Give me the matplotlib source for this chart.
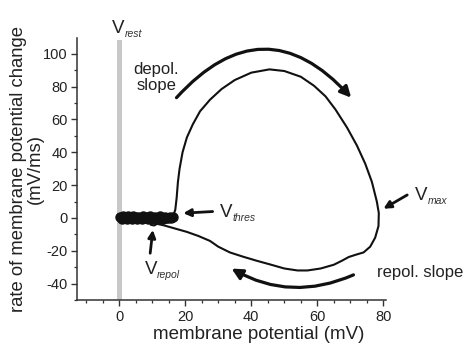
import matplotlib
matplotlib.use("Agg")
import matplotlib.pyplot as plt
from matplotlib.patches import FancyArrowPatch
from matplotlib.ticker import MultipleLocator

plt.rcParams['font.family'] = ['Liberation Sans', 'DejaVu Sans']
plt.rcParams['axes.unicode_minus'] = False

# ---- data ----
# phase-plot loop (membrane potential mV, rate mV/ms), clockwise from threshold
loop_x = [16.4, 17.0, 17.4, 17.8, 18.3, 19.2, 20.5, 22.3, 24.5, 27.5, 31.0, 35.0,
          40.0, 45.5, 50.0, 55.0, 59.0, 62.5, 65.5, 69.0, 72.0, 74.5, 76.5, 78.0,
          78.6, 78.5, 77.5, 76.0, 74.0, 71.5, 69.5, 67.5, 65.0, 61.0, 57.0, 54.0,
          50.0, 46.0, 41.5, 37.5, 33.5, 30.0, 27.5, 24.0, 20.5, 17.0, 13.5, 11.5,
          10.6, 9.6, 9.3, 9.8]
loop_y = [1.5, 5.0, 12.0, 22.0, 30.0, 40.0, 49.0, 57.0, 65.0, 72.0, 78.5, 84.0,
          88.5, 90.5, 89.5, 86.0, 80.5, 74.0, 66.0, 55.0, 44.0, 33.0, 22.0, 10.0,
          3.0, -5.0, -12.0, -17.5, -21.0, -22.5, -23.8, -26.0, -28.5, -30.8, -32.0, -32.0,
          -30.8, -28.5, -26.0, -23.6, -21.0, -17.5, -14.0, -11.0, -8.5, -6.5, -4.5, -3.6,
          -4.6, -4.2, -3.0, -2.0]

# noisy resting trace (dense cluster of points near 0 mV/ms)
blob_x = [0.3, 0.8, 1.3, 1.8, 2.3, 2.8, 3.3, 3.8, 4.3, 4.8, 5.3, 5.8, 6.3, 6.8,
          7.3, 7.8, 8.3, 8.8, 9.3, 9.8, 10.3, 10.8, 11.3, 11.8, 12.3, 12.8, 13.3,
          13.8, 14.3, 14.8, 15.3, 15.8, 16.3]
blob_y = [0.5, -0.6, 1.0, 0.2, -0.8, 0.9, 0.0, -0.7, 1.1, 0.3, -0.9, 0.8, 0.1, -0.5,
          1.0, -0.3, 0.6, -0.8, 0.9, 0.0, -0.6, 0.8, 0.2, -0.4, 0.9, 0.0, -0.5,
          0.7, 0.1, -0.3, 0.6, 0.0, 0.4]

x_ticks = [0, 20, 40, 60, 80]
y_ticks = [-40, -20, 0, 20, 40, 60, 80, 100]

fig = plt.figure(figsize=(4.74, 3.45), dpi=100)
ax = fig.add_axes([0.1635, 0.1304, 0.651, 0.7594])

ink = '#111111'

# V_rest band
ax.fill_betweenx([-50, 108.5], -0.75, 0.75, color='#c8c8c8', lw=0, zorder=1)

ax.plot(blob_x, blob_y, 'o', ms=6.5, color=ink, zorder=3)
ax.plot(blob_x, blob_y, '-', lw=5.5, color=ink, zorder=3, solid_capstyle='round')
ax.plot(loop_x, loop_y, '-', lw=1.5, color=ink, zorder=3)

ax.set_xlim(-12.6, 80.8)
ax.set_ylim(-50, 109.6)
ax.set_xticks(x_ticks)
ax.set_yticks(y_ticks)
ax.xaxis.set_minor_locator(MultipleLocator(5))
ax.yaxis.set_minor_locator(MultipleLocator(10))
for s in ['top', 'right']:
    ax.spines[s].set_visible(False)
for s in ['left', 'bottom']:
    ax.spines[s].set_linewidth(1.1)
    ax.spines[s].set_color('#333333')
ax.tick_params(which='major', direction='out', length=4, width=1.0, labelsize=10.5,
               colors='#333333', labelcolor='#222222', pad=3)
ax.tick_params(which='minor', direction='out', length=2.5, width=0.9, colors='#333333')

ax.set_xlabel('membrane potential (mV)', fontsize=13.5, color='#222222')
ax.xaxis.set_label_coords(0.588, -0.098)
ax.set_ylabel('rate of membrane potential change\n(mV/ms)', fontsize=13.3,
              color='#222222', linespacing=1.0)
ax.yaxis.set_label_coords(-0.108, 0.5)

# curved arrows
top_arrow = FancyArrowPatch((16.8, 72), (70.8, 72), connectionstyle='arc3,rad=-0.56',
                            arrowstyle='-|>', mutation_scale=16, lw=2.3, color=ink,
                            zorder=4)
ax.add_patch(top_arrow)
bot_arrow = FancyArrowPatch((71.7, -34), (33.3, -30), connectionstyle='arc3,rad=-0.26',
                            arrowstyle='-|>', mutation_scale=16, lw=2.3, color=ink,
                            zorder=4)
ax.add_patch(bot_arrow)

# straight arrows
aprops = dict(arrowstyle='-|>', lw=2.0, mutation_scale=11, color=ink,
              shrinkA=0, shrinkB=0)
ax.annotate('', xy=(19.4, 2.9), xytext=(28.3, 3.9), arrowprops=aprops,
            annotation_clip=False)
ax.annotate('', xy=(80.0, 5.6), xytext=(87.2, 14.0), arrowprops=aprops,
            annotation_clip=False)
ax.annotate('', xy=(10.2, -7.3), xytext=(9.4, -21.5), arrowprops=aprops,
            annotation_clip=False)

# V labels with subscripts
def vlabel(x, y, sub):
    ax.text(x, y, 'V', fontsize=13.5, color='#222222', ha='left', va='baseline',
            clip_on=False)
    ax.annotate(sub, xy=(x, y), xycoords='data', xytext=(9.0, -3.0),
                textcoords='offset points', fontsize=7.5, style='italic',
                color='#333333', ha='left', va='baseline', annotation_clip=False)

vlabel(-2.2, 112.6, 'rest')
vlabel(30.6, 0.8, 'thres')
vlabel(89.6, 11.0, 'max')
vlabel(7.7, -34.1, 'repol')

ax.text(11.2, 85.5, 'depol.\nslope', fontsize=12, color='#222222', ha='center',
        va='center', linespacing=1.05)
ax.text(91.1, -33.5, 'repol. slope', fontsize=12, color='#222222', ha='center',
        va='center', clip_on=False)

fig.savefig('out.png', dpi=100)
